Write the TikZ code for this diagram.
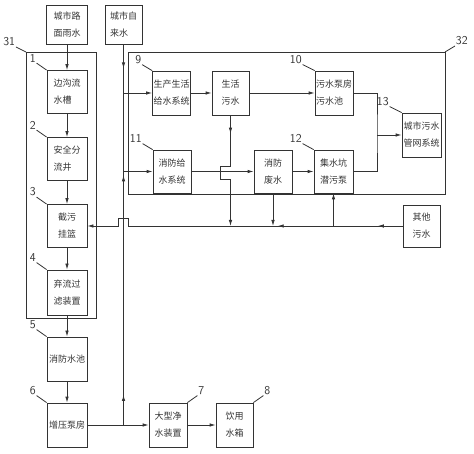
\documentclass[tikz,border=0pt]{standalone}
\usepackage{fontspec}
\newfontfamily\cjk{Noto Sans CJK SC}
\usetikzlibrary{arrows.meta,decorations.markings}

\begin{document}
\begin{tikzpicture}[x=1pt, y=-1pt, line width=0.8pt, color=black!80,
    >={Latex[length=6pt,width=3.5pt]},
    box/.style={draw, minimum width=38pt, minimum height=43pt, inner sep=1pt,
      align=left, font=\cjk\fontsize{9}{17}\selectfont},
    num/.style={font=\sffamily\fontsize{12}{12}\selectfont, inner sep=0.5pt}]
    \useasboundingbox (0,0) rectangle (474,454);
    % Sources
    \node[box, minimum width=41pt, minimum height=39pt] (rain) at (67,24.5) {城市路\\面雨水};
    \node[box, minimum width=37pt, minimum height=39pt] (tap) at (123.5,24.5) {城市自\\来水};
    % Frames 31 and 32
    \draw (26,52) rectangle (96,318);
    \draw (128,52) rectangle (445,194);
    % Rain water line
    \node[box, minimum width=40pt] (b1) at (67,92) {边沟流\\水槽};
    \node[box, minimum width=40pt] (b2) at (67,159) {安全分\\流井};
    \node[box, minimum width=40pt] (b3) at (67,226) {截污\\挂篮};
    \node[box, minimum width=40pt, minimum height=45pt] (b4) at (67,292.5) {弃流过\\滤装置};
    \node[box, minimum width=40pt, minimum height=44pt] (b5) at (67,359) {消防水池};
    \node[box, minimum width=40pt, minimum height=44pt] (b6) at (67,425) {增压泵房};
    \node[box, minimum height=44pt] (b7) at (168,425) {大型净\\水装置};
    \node[box, minimum width=37pt, minimum height=44pt] (b8) at (234.5,425) {饮用\\水箱};
    % Supply and sewage
    \node[box, minimum width=37pt, minimum height=44pt] (b9) at (171.5,93) {生产生活\\给水系统};
    \node[box, minimum width=37pt, minimum height=44pt] (ls) at (230.5,93) {生活\\污水};
    \node[box, minimum height=44pt] (b10) at (334,93) {污水泵房\\污水池};
    \node[box, minimum width=39pt, minimum height=44pt] (b13) at (421.5,135) {城市污水\\管网系统};
    \node[box] (b11) at (172,171.5) {消防给\\水系统};
    \node[box] (fw) at (273,171.5) {消防\\废水};
    \node[box, minimum width=39pt] (b12) at (333.5,171.5) {集水坑\\潜污泵};
    \node[box, minimum width=37pt, minimum height=42pt] (other) at (421.5,226) {其他\\污水};
    % Junctions
    \coordinate (j9) at (tap.south |- b9.west);
    \coordinate (j11) at (tap.south |- b11.west);
    \coordinate (j6) at (tap.south |- b6.east);
    \coordinate (j13) at (377,135);
    \coordinate (hop) at (tap.south |- other.west);
    \coordinate (jl) at (ls.south |- other.west);
    \coordinate (jf) at (fw.south |- other.west);
    \coordinate (j12) at (b12.south |- other.west);
    % Left column
    \draw[->] (rain) -- (b1);
    \draw[->] (b1) -- (b2);
    \draw[->] (b2) -- (b3);
    \draw[->] (b3) -- (b4);
    \draw[->] (b4) -- (b5);
    \draw[->] (b5) -- (b6);
    \draw[->] (b6) -- (b7);
    \draw[->] (b7) -- (b8);
    % Tap water riser
    \draw[postaction={decorate}, decoration={markings,
        mark=at position 0.063 with {\arrow{>}},
        mark=at position 0.344 with {\arrowreversed{>}},
        mark=at position 0.921 with {\arrowreversed{>}}}] (tap.south) -- (j6);
    \draw[->] (j9) -- (b9);
    \draw[->] (j11) -- (b11);
    % Upper block
    \draw[->] (b9) -- (ls);
    \draw[->] (ls) -- (b10);
    \draw (b10.east) -| (j13) |- (b12.east);
    \draw[->] (j13) -- (b13);
    \draw[->] (b11) -- (fw);
    \draw[->] (fw) -- (b12);
    \draw[->, postaction={decorate}, decoration={markings,
        mark=at position 0.14 with {\arrow{>}}}]
      (ls.south) -- ++(0,51) -- ++(-10,0) -- ++(0,13) -- ++(10,0) -- (jl);
    \draw[->] (fw.south) -- (jf);
    \draw[->] (j12) -- (b12.south);
    % Other sewage back to basket
    \draw[->, postaction={decorate}, decoration={markings,
        mark=at position 0.075 with {\arrow{>}},
        mark=at position 0.377 with {\arrow{>}}}]
      (other.west) -- ([xshift=5pt]hop) -- ++(0,-8) -- ++(-10,0) -- ++(0,8) -- (b3.east);
    % Reference numbers
    \draw (26,52) -- ++(-10,-5) node[num, anchor=south east] (n31) {31};
    \draw (b1.north west) -- ++(-10,-7) node[num, anchor=south east] (n1) {1};
    \draw (b2.north west) -- ++(-10,-7) node[num, anchor=south east] (n2) {2};
    \draw (b3.north west) -- ++(-10,-7) node[num, anchor=south east] (n3) {3};
    \draw (b4.north west) -- ++(-10,-7) node[num, anchor=south east] (n4) {4};
    \draw (b5.north west) -- ++(-10,-7) node[num, anchor=south east] (n5) {5};
    \draw (b6.north west) -- ++(-10,-7) node[num, anchor=south east] (n6) {6};
    \draw (b7.north east) -- ++(10,-7) node[num, anchor=south west] (n7) {7};
    \draw (b8.north east) -- ++(10,-7) node[num, anchor=south west] (n8) {8};
    \draw (b9.north west) -- ++(-10,-6) node[num, anchor=south east] (n9) {9};
    \draw (b10.north west) -- ++(-12,-6) node[num, anchor=south east] (n10) {10};
    \draw (b11.north west) -- ++(-10,-6) node[num, anchor=south east] (n11) {11};
    \draw (b12.north west) -- ++(-11,-6) node[num, anchor=south east] (n12) {12};
    \draw (b13.north west) -- ++(-12,-6) node[num, anchor=south east] (n13) {13};
    \draw (445,52) -- ++(10,-6) node[num, anchor=south west] (n32) {32};
\end{tikzpicture}
\end{document}
